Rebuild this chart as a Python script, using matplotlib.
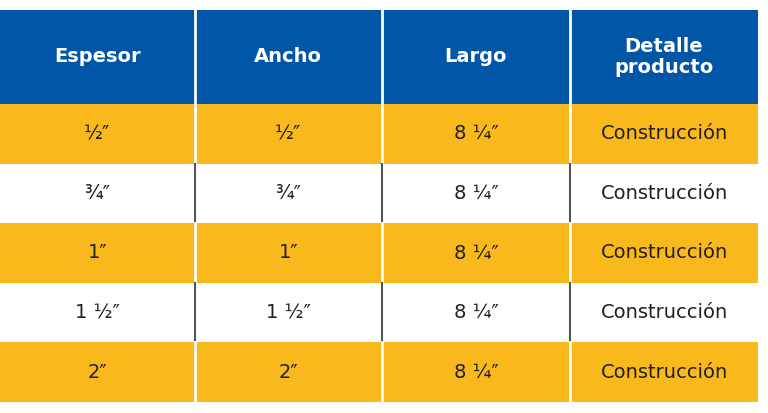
import matplotlib
matplotlib.use("Agg")
import matplotlib.pyplot as plt
from matplotlib.patches import Rectangle

headers = ["Espesor", "Ancho", "Largo", "Detalle\nproducto"]
espesor = ["½″", "¾″", "1″", "1 ½″", "2″"]
ancho = ["½″", "¾″", "1″", "1 ½″", "2″"]
largo = ["8 ¼″"] * 5
detalle = ["Construcción"] * 5

W, H = 768, 413
fig = plt.figure(figsize=(W/100, H/100), dpi=100)
ax = fig.add_axes([0, 0, 1, 1])
ax.set_xlim(0, W); ax.set_ylim(H, 0); ax.axis("off")

fam = ["Liberation Sans Narrow", "DejaVu Sans"]
blue, yellow = "#0256A8", "#F9B81B"
xs = [0, 194.5, 382, 570, 758]
header_top, header_bot = 10, 104
row_h = (402 - header_bot) / 5

for c in range(4):
    ax.add_patch(Rectangle((xs[c], header_top), xs[c+1]-xs[c], header_bot-header_top, color=blue, lw=0))
    ax.text((xs[c]+xs[c+1])/2, (header_top+header_bot)/2, headers[c], ha="center", va="center",
            color="white", fontsize=14, fontweight="bold", family=fam, linespacing=1.1)

cols = [espesor, ancho, largo, detalle]
for r in range(5):
    y0 = header_bot + r*row_h
    fc = yellow if r % 2 == 0 else "white"
    ax.add_patch(Rectangle((0, y0), xs[-1], row_h, color=fc, lw=0))
    for c in range(4):
        ax.text((xs[c]+xs[c+1])/2, y0+row_h/2, cols[c][r], ha="center", va="center",
                color="#231F20", fontsize=14, family=fam)
    for x in xs[1:-1]:
        lc = "white" if r % 2 == 0 else "#555555"
        ax.plot([x, x], [y0, y0+row_h], color=lc, lw=2 if r % 2 == 0 else 1.5)
for x in xs[1:-1]:
    ax.plot([x, x], [header_top, header_bot], color="white", lw=2)

fig.savefig("out.png", dpi=100)
